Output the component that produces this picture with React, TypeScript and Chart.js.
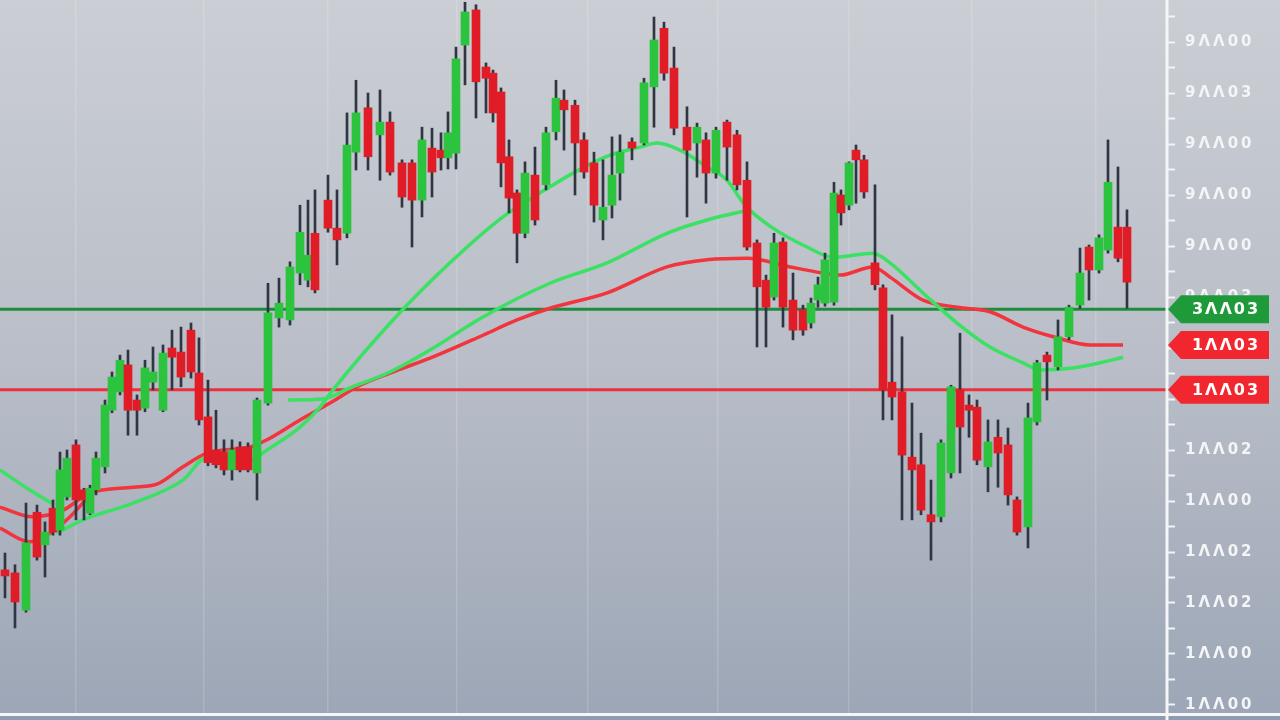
import React, { useEffect, useRef } from "react";
import { Chart, registerables } from "chart.js";

Chart.register(...registerables);

// ---- candles (time index, open, high, low, close) ----
const TIMES = [
  0.5, 1.5, 2.6, 3.7, 4.5, 5.3, 6.0, 6.7, 7.6, 8.4, 9.0, 9.6, 10.5, 11.2, 12.0, 12.8, 13.7, 14.5, 15.3, 16.3,
  17.2, 18.1, 19.1, 19.9, 20.8, 21.6, 22.4, 23.2, 24.0, 24.8, 25.7, 26.8, 27.9, 29.0, 30.0, 30.8, 31.5, 32.8, 33.7, 34.7,
  35.6, 36.8, 38.0, 39.0, 40.2, 41.2, 42.2, 43.2, 44.1, 44.8, 45.6, 46.5, 47.6, 48.6, 49.3, 50.1, 50.9, 51.7, 52.5, 53.5,
  54.6, 55.6, 56.4, 57.5, 58.4, 59.4, 60.3, 61.2, 62.0, 63.2, 64.4, 65.4, 66.4, 67.4, 68.7, 69.7, 70.6, 71.6, 72.7, 73.7,
  74.7, 75.7, 76.6, 77.4, 78.3, 79.3, 80.3, 81.1, 81.8, 82.5, 83.4, 84.1, 84.9, 85.6, 86.4, 87.5, 88.3, 89.2, 90.2, 91.2,
  92.1, 93.1, 94.1, 95.1, 96.0, 96.9, 97.7, 98.8, 99.8, 100.8, 101.7, 102.8, 103.7, 104.7, 105.8, 106.9, 108.0, 108.9, 109.9, 110.8,
  111.8, 112.7,
];
const OPEN = [
  126.5, 125.9, 118.6, 137.8, 131.4, 138.6, 134.3, 140.8, 151.0, 142.2, 137.6, 142.2, 146.7, 157.8, 161.4, 166.7, 159.8, 158.2, 163.3, 157.8,
  170.0, 169.2, 173.5, 165.1, 156.5, 150.0, 149.6, 146.1, 150.6, 150.6, 145.5, 159.2, 175.9, 175.5, 184.7, 183.3, 192.5, 199.0, 193.5, 192.5,
  208.4, 217.1, 211.8, 214.3, 206.3, 206.3, 199.0, 209.2, 208.8, 207.3, 208.2, 229.4, 236.3, 225.1, 223.9, 220.2, 207.5, 200.4, 192.5, 203.9,
  202.0, 212.4, 218.6, 217.6, 210.8, 206.3, 195.1, 198.0, 204.3, 210.4, 210.2, 221.2, 232.7, 224.9, 213.3, 210.2, 210.8, 204.3, 214.3, 211.8,
  202.9, 190.6, 183.3, 180.0, 190.8, 179.4, 177.5, 174.9, 179.4, 178.8, 179.0, 200.0, 198.0, 208.8, 206.9, 186.7, 181.8, 163.3, 161.4, 148.6,
  147.1, 137.3, 136.9, 145.5, 161.8, 158.8, 158.4, 146.7, 152.5, 151.0, 140.2, 134.9, 155.5, 168.6, 166.3, 172.2, 178.4, 189.8, 185.3, 189.2,
  193.7, 193.7,
];
const HIGH = [
  129.8, 127.5, 139.6, 139.2, 135.9, 140.2, 149.6, 150.0, 152.0, 142.5, 143.1, 149.6, 159.8, 165.3, 168.6, 169.6, 160.8, 167.6, 170.2, 170.6,
  173.5, 174.1, 174.9, 172.0, 163.7, 157.8, 152.0, 152.0, 151.6, 151.4, 160.2, 182.7, 183.7, 186.9, 198.0, 199.0, 201.0, 203.9, 201.0, 216.1,
  222.5, 220.0, 220.6, 216.3, 206.9, 206.9, 213.3, 213.1, 212.2, 216.3, 229.0, 237.8, 237.3, 225.9, 224.5, 221.0, 210.8, 201.0, 206.5, 209.4,
  213.3, 222.5, 220.6, 218.6, 212.2, 208.4, 206.9, 211.4, 211.8, 211.2, 222.9, 234.9, 233.9, 229.0, 217.3, 214.1, 212.2, 213.3, 214.7, 212.7,
  206.5, 191.2, 184.3, 192.5, 191.6, 184.7, 178.4, 179.8, 183.9, 188.6, 202.5, 201.0, 206.5, 209.8, 207.8, 202.0, 182.4, 176.5, 172.2, 159.2,
  153.3, 144.1, 152.0, 162.7, 172.9, 160.8, 159.8, 155.9, 155.9, 154.3, 140.8, 159.2, 167.6, 169.2, 175.5, 178.4, 189.6, 190.2, 192.2, 210.8,
  205.5, 197.1,
];
const LOW = [
  121.0, 115.1, 118.2, 128.4, 125.1, 133.3, 133.3, 140.2, 136.3, 136.3, 137.3, 141.2, 145.5, 157.3, 160.8, 152.9, 152.9, 157.5, 161.8, 157.5,
  161.8, 162.4, 164.1, 154.9, 146.9, 146.5, 145.1, 144.1, 145.7, 145.7, 140.2, 158.8, 174.1, 174.5, 182.4, 182.0, 180.8, 192.7, 186.3, 191.6,
  204.9, 204.9, 202.9, 203.9, 197.6, 189.8, 195.7, 199.6, 204.9, 205.1, 205.1, 221.6, 215.1, 216.1, 214.3, 201.6, 196.5, 186.7, 191.6, 194.1,
  201.0, 210.8, 208.8, 200.0, 203.3, 194.7, 191.2, 195.5, 199.0, 206.9, 209.8, 213.3, 222.5, 211.8, 195.7, 203.5, 198.4, 203.3, 202.9, 201.0,
  189.2, 170.2, 170.2, 179.4, 174.1, 171.6, 172.5, 173.9, 178.0, 178.2, 178.4, 194.1, 197.1, 198.4, 199.4, 181.4, 155.9, 155.9, 136.3, 136.3,
  137.3, 128.4, 135.9, 144.5, 145.5, 152.5, 147.1, 141.8, 142.7, 139.2, 133.3, 130.8, 154.9, 159.8, 165.7, 171.6, 177.8, 179.4, 184.7, 188.6,
  186.9, 177.8,
];
const CLOSE = [
  125.3, 120.2, 131.8, 129.0, 133.9, 133.9, 146.1, 148.4, 140.2, 140.2, 142.5, 148.4, 158.8, 164.3, 167.6, 157.8, 157.8, 166.1, 165.3, 169.0,
  168.2, 164.3, 165.3, 155.9, 147.5, 147.1, 146.1, 150.0, 146.1, 146.1, 159.8, 176.9, 178.8, 185.9, 192.7, 188.2, 181.4, 193.5, 191.2, 209.8,
  216.1, 207.5, 214.3, 204.5, 199.6, 199.0, 210.8, 204.5, 207.3, 212.2, 226.7, 235.9, 222.2, 222.9, 216.1, 206.3, 199.4, 192.5, 204.3, 195.1,
  212.2, 219.0, 216.7, 210.2, 204.5, 198.0, 197.6, 203.9, 208.4, 209.2, 222.0, 230.4, 223.9, 213.1, 208.8, 213.3, 204.3, 212.7, 209.4, 202.0,
  189.8, 182.0, 178.0, 190.6, 178.0, 173.5, 173.5, 178.8, 182.4, 187.3, 200.4, 196.5, 206.3, 206.9, 200.6, 182.4, 161.8, 160.4, 149.0, 146.1,
  138.2, 135.9, 151.4, 162.4, 154.5, 157.8, 148.0, 151.6, 149.4, 141.2, 133.9, 156.3, 167.1, 167.3, 172.2, 178.0, 184.7, 185.3, 191.6, 202.5,
  187.6, 182.9,
];

// ---- moving averages ----
const FAST_T = [0, 2.7, 5.3, 5.5, 5.7, 8.3, 13.3, 18.3, 20.7, 25, 26.7, 30, 32, 33.3, 39.3, 45, 50.3, 55, 57.3, 61, 64, 65.7, 68, 70.7, 72.7, 74.5, 77.3, 80.7, 83.3, 87.3, 89, 92.3, 95.7, 99, 102.3, 104, 107.3, 110, 112.3];
const FAST_V = [146.1, 142.5, 139.4, null, 133.7, 136.3, 139.6, 144.1, 148.6, 148.0, 150.0, 154.5, 158.4, 161.8, 175.5, 186.7, 195.7, 201.6, 204.3, 207.8, 209.4, 210.2, 208.8, 205.5, 202.9, 198.0, 193.5, 189.8, 187.8, 188.6, 186.7, 180.8, 174.9, 170.2, 167.1, 165.7, 166.1, 167.1, 168.2];
const SLOW_T = [28.8, 32.3, 35, 39, 43, 48.3, 55, 60.7, 66.7, 70.7, 75];
const SLOW_V = [159.8, 160.0, 162.2, 165.3, 169.6, 176.1, 182.7, 186.7, 192.5, 195.1, 197.1];
const RED_T = [0, 3.3, 6.3, 9, 13.3, 15.7, 18.3, 20.7, 25, 26.7, 30, 33, 36, 39, 43, 48.3, 51.7, 55, 60.7, 66.7, 70.7, 74.7, 79, 82.3, 84, 87.3, 89, 92.3, 95.7, 99, 102.3, 105.7, 109, 112.3];
const RED_V = [138.8, 136.9, 138.2, 141.6, 142.7, 143.3, 146.7, 149.4, 150.6, 152.0, 155.9, 159.2, 162.7, 165.1, 168.0, 172.5, 175.5, 177.8, 180.8, 185.9, 187.3, 187.6, 185.9, 184.7, 184.3, 185.9, 183.9, 179.4, 178.0, 177.1, 174.1, 172.0, 170.6, 170.6];
const RED2_T = [0, 3, 5, 7, 9];
const RED2_V = [134.7, 132.0, 133.7, 136.9, 141.2];

// ---- levels, axis labels ----
const GREEN_LEVEL = 177.6;
const RED_LEVEL = 161.8;
const Y_TICK_VALUES = [100, 110, 120, 130, 140, 150, 160, 170, 180, 190, 200, 210, 220, 230];
const Y_TICK_LABELS = ["1ΛΛ00", "1ΛΛ00", "1ΛΛ02", "1ΛΛ02", "1ΛΛ00", "1ΛΛ02", "1ΛΛ03", "1ΛΛ03", "9ΛΛ03", "9ΛΛ00", "9ΛΛ00", "9ΛΛ00", "9ΛΛ03", "9ΛΛ00"];
const TAG_LABELS = ["3ΛΛ03", "1ΛΛ03", "1ΛΛ03"];
const GRID_T = [7.6, 20.4, 32.8, 45.7, 58.8, 71.8, 84.9, 97.2, 109.6];

const X_MAX = 116.7;
const Y_MIN = 98.43;
const Y_MAX = 238.24;

const GREEN = "#2cc43f";
const RED = "#e01c26";

const toPts = (t: number[], v: (number | null)[]) => t.map((x, i) => ({ x, y: v[i] }));

const decoPlugin = {
  id: "deco",
  beforeDraw(chart: any) {
    const { ctx, width, height } = chart;
    ctx.save();
    const g = ctx.createLinearGradient(0, 0, 0, height);
    g.addColorStop(0, "#cbced4");
    g.addColorStop(0.5, "#b9bec8");
    g.addColorStop(1, "#9ca6b6");
    ctx.fillStyle = g;
    ctx.fillRect(0, 0, width, height);
    ctx.restore();
    ctx.letterSpacing = "3px";
  },
  afterDraw(chart: any) {
    const { ctx, chartArea, scales, width, height } = chart;
    ctx.letterSpacing = "0px";
    ctx.save();
    ctx.fillStyle = "#8e9bb0";
    ctx.fillRect(0, chartArea.bottom, width, height - chartArea.bottom);
    ctx.fillStyle = "#f4f6f8";
    ctx.fillRect(0, chartArea.bottom, width, 3);
    ctx.fillRect(chartArea.right - 1.5, 0, 3, height);

    const tags = [
      { v: GREEN_LEVEL, c: "#1f9a3a", t: TAG_LABELS[0] },
      { v: RED_V[RED_V.length - 1], c: "#f2262f", t: TAG_LABELS[1] },
      { v: RED_LEVEL, c: "#f2262f", t: TAG_LABELS[2] },
    ];
    const x0 = chartArea.right + 1;
    for (const tag of tags) {
      const y = scales.y.getPixelForValue(tag.v);
      ctx.beginPath();
      ctx.moveTo(x0, y);
      ctx.lineTo(x0 + 13, y - 14);
      ctx.lineTo(x0 + 101, y - 14);
      ctx.lineTo(x0 + 101, y + 14);
      ctx.lineTo(x0 + 13, y + 14);
      ctx.closePath();
      ctx.fillStyle = tag.c;
      ctx.fill();
      ctx.fillStyle = "#ffffff";
      ctx.font = 'bold 16px "DejaVu Sans"';
      ctx.letterSpacing = "2px";
      ctx.textAlign = "center";
      ctx.textBaseline = "middle";
      ctx.fillText(tag.t, x0 + 58, y + 1);
      ctx.letterSpacing = "0px";
    }
    ctx.restore();
  },
};

export default function App() {
  const ref = useRef<HTMLCanvasElement | null>(null);

  useEffect(() => {
    if (!ref.current) return;
    const bodies = TIMES.map((x, i) => ({ x, y: [OPEN[i], CLOSE[i]] }));
    const wicks = TIMES.map((x, i) => ({ x, y: [LOW[i], HIGH[i]] }));
    const bodyColors = TIMES.map((_, i) => (CLOSE[i] >= OPEN[i] ? GREEN : RED));

    const lineDs = (pts: any, color: string, order: number, width = 3.5) =>
      ({
        type: "line",
        data: pts,
        borderColor: color,
        borderWidth: width,
        pointRadius: 0,
        cubicInterpolationMode: "monotone",
        spanGaps: false,
        order,
      }) as any;

    const chart = new Chart(ref.current, {
      type: "bar",
      data: {
        datasets: [
          {
            type: "bar",
            data: bodies as any,
            backgroundColor: bodyColors,
            borderWidth: 0,
            barThickness: 8,
            grouped: false,
            order: 0,
          } as any,
          {
            type: "bar",
            data: wicks as any,
            backgroundColor: "#2f3641",
            borderWidth: 0,
            barThickness: 2,
            grouped: false,
            order: 1,
          } as any,
          lineDs(toPts(FAST_T, FAST_V), "#3ae163", 2),
          lineDs(toPts(SLOW_T, SLOW_V), "#3ae163", 2),
          lineDs(toPts(RED_T, RED_V), "#f2343d", 2),
          lineDs(toPts(RED2_T, RED2_V), "#f2343d", 2),
          lineDs([{ x: 0, y: GREEN_LEVEL }, { x: X_MAX, y: GREEN_LEVEL }], "#1d8c3c", 3, 3),
          lineDs([{ x: 0, y: RED_LEVEL }, { x: X_MAX, y: RED_LEVEL }], "#ef2f3c", 3, 3),
        ],
      },
      options: {
        animation: false,
        responsive: false,
        events: [],
        layout: { padding: { left: 0, right: 0, top: 0, bottom: 7 } },
        plugins: { legend: { display: false }, tooltip: { enabled: false } },
        scales: {
          x: {
            type: "linear",
            min: 0,
            max: X_MAX,
            offset: false,
            afterFit: (s: any) => {
              s.height = 0;
              s.paddingLeft = 0;
              s.paddingRight = 0;
            },
            afterBuildTicks: (s: any) => {
              s.ticks = GRID_T.map((v) => ({ value: v }));
            },
            ticks: { display: false },
            grid: { color: "rgba(255,255,255,0.16)", lineWidth: 1.5, drawTicks: false, offset: false },
            border: { display: false },
          },
          y: {
            type: "linear",
            position: "right",
            min: Y_MIN,
            max: Y_MAX,
            afterFit: (s: any) => {
              s.width = 113;
              s.paddingTop = 0;
              s.paddingBottom = 0;
            },
            ticks: {
              stepSize: 5,
              includeBounds: false,
              autoSkip: false,
              color: "#f3f5f7",
              padding: 10,
              font: { family: "DejaVu Sans", weight: "bold", size: 15 },
              callback: (v: any) => {
                const idx = Y_TICK_VALUES.indexOf(Math.round(Number(v)));
                return idx >= 0 && Math.abs(Number(v) - Y_TICK_VALUES[idx]) < 0.01 ? Y_TICK_LABELS[idx] : "";
              },
            },
            grid: {
              drawOnChartArea: false,
              drawTicks: true,
              tickLength: 8,
              tickWidth: 2,
              tickColor: "#f1f3f6",
            },
            border: { display: false },
          },
        },
      } as any,
      plugins: [decoPlugin],
    });
    return () => chart.destroy();
  }, []);

  return (
    <div style={{ position: "fixed", left: 0, top: 0, width: 1280, height: 720 }}>
      <canvas ref={ref} width={1280} height={720} style={{ display: "block", width: 1280, height: 720 }} />
    </div>
  );
}
